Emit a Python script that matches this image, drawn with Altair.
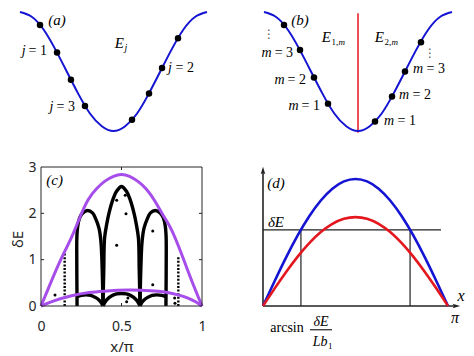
import altair as alt
import pandas as pd

BLUE = "#1414d2"
RED = "#e4161e"
PURPLE = "#a64dea"
INK = "#262626"
SERIF = "Liberation Serif"
SANS = "Noto Sans"

# ---------------- (a) / (b): cosine band, k in units of pi ----------------
band_k = [0, 0.125, 0.25, 0.375, 0.5, 0.625, 0.75, 0.875, 1.0,
          1.125, 1.25, 1.375, 1.5, 1.625, 1.75, 1.875, 2.0]
band_E = [1.0, 0.92, 0.71, 0.38, 0.0, -0.38, -0.71, -0.92, -1.0,
          -0.92, -0.71, -0.38, 0.0, 0.38, 0.71, 0.92, 1.0]

a_dot_k = [0.214, 0.396, 0.545, 0.695, 1.198, 1.380, 1.519, 1.690]
a_dot_E = [0.78, 0.32, -0.14, -0.58, -0.81, -0.37, 0.06, 0.56]

b_dot_k = [0.213, 0.383, 0.532, 0.681, 1.181, 1.362, 1.500, 1.670]
b_dot_E = [0.78, 0.36, -0.10, -0.54, -0.84, -0.42, 0.0, 0.49]

b_divider_k = [1.0]
b_divider_lo = [-1.03]
b_divider_hi = [0.98]

# level labels: (index text, k, E)
a_left_labels = [["= 1", 0.289, 0.344], ["= 3", 0.588, -0.59]]
a_right_labels = [["= 2", 1.583, 0.066]]
b_left_labels = [["= 3", 0.309, 0.317], ["= 2", 0.447, -0.138], ["= 1", 0.596, -0.577]]
b_right_labels = [["= 3", 1.585, 0.041], ["= 2", 1.436, -0.398], ["= 1", 1.277, -0.837]]

# ---------------- (c): delta E versus x/pi ----------------
c_upper_x = [0, 0.06, 0.12, 0.188, 0.24, 0.292, 0.345, 0.395, 0.45, 0.5,
             0.55, 0.602, 0.655, 0.71, 0.76, 0.81, 0.87, 0.93, 1.0]
c_upper_y = [0, 0.5, 0.98, 1.47, 1.9, 2.29, 2.53, 2.69, 2.8, 2.84,
             2.8, 2.69, 2.52, 2.25, 1.95, 1.65, 1.15, 0.6, 0]
c_lower_x = [0, 0.08, 0.19, 0.3, 0.395, 0.48, 0.56, 0.68, 0.768, 0.85, 0.913, 0.96, 1.0]
c_lower_y = [0, 0.11, 0.22, 0.29, 0.32, 0.34, 0.345, 0.33, 0.30, 0.24, 0.17, 0.09, 0]

arch_left_x = [0.224, 0.222, 0.223, 0.228, 0.24, 0.26, 0.29, 0.32, 0.34, 0.36, 0.372, 0.38, 0.385]
arch_left_y = [0, 1.2, 1.5, 1.72, 1.9, 2.01, 2.06, 2.01, 1.88, 1.68, 1.4, 0.8, 0]
arch_mid_x = [0.385, 0.39, 0.395, 0.41, 0.422, 0.447, 0.47, 0.5, 0.53, 0.553, 0.578, 0.59, 0.605, 0.61, 0.615]
arch_mid_y = [0, 0.8, 1.47, 1.8, 2.0, 2.3, 2.48, 2.58, 2.48, 2.3, 2.0, 1.8, 1.47, 0.8, 0]
arch_right_x = [0.615, 0.62, 0.628, 0.64, 0.66, 0.68, 0.71, 0.74, 0.76, 0.772, 0.777, 0.778, 0.776]
arch_right_y = [0, 0.8, 1.4, 1.68, 1.88, 2.01, 2.06, 2.01, 1.9, 1.72, 1.5, 1.2, 0]
low_left_x = [0.224, 0.25, 0.28, 0.31, 0.34, 0.36, 0.375, 0.385]
low_left_y = [0.2, 0.23, 0.24, 0.23, 0.18, 0.13, 0.07, 0]
low_mid_x = [0.385, 0.395, 0.41, 0.44, 0.47, 0.5, 0.53, 0.56, 0.59, 0.605, 0.615]
low_mid_y = [0, 0.07, 0.14, 0.22, 0.26, 0.27, 0.26, 0.22, 0.14, 0.07, 0]
low_right_x = [0.615, 0.625, 0.64, 0.66, 0.69, 0.72, 0.75, 0.776]
low_right_y = [0, 0.07, 0.13, 0.18, 0.23, 0.24, 0.23, 0.2]

c_col_x = [0.147, 0.853]
c_col_top = [1.15, 1.05]

c_dot_x = [0.087, 0.47, 0.523, 0.528, 0.47, 0.694, 0.694, 0.54, 0.532, 0.832, 0.83]
c_dot_y = [0.24, 2.28, 2.39, 1.99, 1.31, 1.62, 0.46, 0.17, 0.09, 0.06, 0.17]

c_xticks = [0, 0.5, 1]
c_yticks = [0, 1, 2, 3]

# ---------------- (d): sketch of two sine bands ----------------
d_x = [0, 0.0625, 0.125, 0.1875, 0.25, 0.3125, 0.375, 0.4375, 0.5,
       0.5625, 0.625, 0.6875, 0.75, 0.8125, 0.875, 0.9375, 1.0]
d_blue = [0, 0.195, 0.383, 0.556, 0.707, 0.831, 0.924, 0.981, 1.0,
          0.981, 0.924, 0.831, 0.707, 0.556, 0.383, 0.195, 0]
d_red = [0, 0.137, 0.268, 0.389, 0.495, 0.582, 0.647, 0.687, 0.70,
         0.687, 0.647, 0.582, 0.495, 0.389, 0.268, 0.137, 0]
d_level = 0.6
d_cross = [0.205, 0.795]

# ---------------- layout: one plot area, one pair of scales per panel ----------------
OX, OY = 8, 8          # page margin
PW, PH = 458, 346      # plot area


def xdom(v0, p0, v1, p1):
    s = (p1 - p0) / (v1 - v0)
    d0 = v0 - (p0 - OX) / s
    return [d0, d0 + PW / s]


def ydom(v0, p0, v1, p1):
    s = (p0 - p1) / (v1 - v0)
    top = v0 + (p0 - OY) / s
    return [top - PH / s, top]


def enc(dom_x, dom_y, ax_x=None, ax_y=None):
    X = alt.X("x:Q", scale=alt.Scale(domain=dom_x, nice=False, zero=False), axis=ax_x)
    Y = alt.Y("y:Q", scale=alt.Scale(domain=dom_y, nice=False, zero=False), axis=ax_y)
    return X, Y


def labels(rows, X, Y, **kw):
    df = pd.DataFrame(rows, columns=["t", "x", "y"])
    base = dict(font=SERIF, fontSize=14, fontStyle="italic", baseline="middle", color="black")
    base.update(kw)
    return alt.Chart(df).mark_text(**base).encode(x=X, y=Y, text="t:N")


def level_labels(rows, var, var_w, side, X, Y):
    """'var = n' with an italic variable and an upright '= n'."""
    anchors = [[var, r[1], r[2]] for r in rows]
    if side == "right":          # text ends at the anchor
        return [labels(rows, X, Y, fontStyle="normal", align="right"),
                labels(anchors, X, Y, align="right", dx=-21.5)]
    return [labels(anchors, X, Y, align="left"),
            labels(rows, X, Y, fontStyle="normal", align="left", dx=var_w + 3.5)]


def curve(xs, ys, X, Y, **kw):
    df = pd.DataFrame({"x": xs, "y": ys})
    return alt.Chart(df).mark_line(**kw).encode(x=X, y=Y)


def dots(xs, ys, X, Y, **kw):
    df = pd.DataFrame({"x": xs, "y": ys})
    return alt.Chart(df).mark_circle(opacity=1, **kw).encode(x=X, y=Y)


# ---------------- panel (a) ----------------
XA, YA = enc(xdom(0, 20, 2, 207), ydom(-1, 128, 1, 9))
pa = alt.layer(
    curve(band_k, band_E, XA, YA, color=BLUE, strokeWidth=2, interpolate="natural"),
    dots(a_dot_k, a_dot_E, XA, YA, size=42, color="black"),
    labels([["(a)", 0.396, 0.87]], XA, YA, fontSize=15, align="center"),
    *level_labels(a_left_labels, "j", 4.0, "right", XA, YA),
    *level_labels(a_right_labels, "j", 4.0, "left", XA, YA),
    labels([["E", 1.112, 0.475]], XA, YA, fontSize=15, align="right"),
    labels([["j", 1.118, 0.39]], XA, YA, fontSize=10, align="left"),
)

# ---------------- panel (b) ----------------
XB, YB = enc(xdom(0, 264, 2, 452), ydom(-1, 128, 1, 9))
div_df = pd.DataFrame({"x": b_divider_k, "y": b_divider_lo, "y2": b_divider_hi})
pb = alt.layer(
    alt.Chart(div_df).mark_rule(color=RED, strokeWidth=1.5).encode(x=XB, y=YB, y2="y2:Q"),
    curve(band_k, band_E, XB, YB, color=BLUE, strokeWidth=2, interpolate="natural"),
    dots(b_dot_k, b_dot_E, XB, YB, size=42, color="black"),
    labels([["(b)", 0.383, 0.87]], XB, YB, fontSize=15, align="center"),
    *level_labels(b_left_labels, "m", 10.0, "right", XB, YB),
    *level_labels(b_right_labels, "m", 10.0, "left", XB, YB),
    labels([["E", 0.713, 0.577], ["E", 1.277, 0.577]], XB, YB, fontSize=15, align="right"),
    labels([["1,", 0.718, 0.49], ["2,", 1.282, 0.49]], XB, YB, fontSize=9, fontStyle="normal",
           align="left"),
    labels([["m", 0.718, 0.49], ["m", 1.282, 0.49]], XB, YB, fontSize=9, align="left", dx=7),
    labels([["⋮", 0.053, 0.626], ["⋮", 1.766, 0.317]], XB, YB, font="DejaVu Sans",
           fontStyle="normal", fontSize=12, color="#555", align="center"),
)

# ---------------- panel (c) ----------------
C_LEFT, C_RIGHT, C_TOP, C_BOTTOM = 41, 202, 164, 303
ax_cx = alt.Axis(orient="bottom", offset=-(OY + PH - C_BOTTOM), values=c_xticks, format="~g",
                 title="x/π", titleX=(C_LEFT + C_RIGHT) / 2 - OX, titleY=343 - C_BOTTOM,
                 titleAlign="center", titleBaseline="middle", titleAngle=0,
                 ticks=False, domain=False, grid=False, labelFlush=False,
                 labelFont=SANS, labelFontSize=14, labelColor=INK, labelPadding=13,
                 titleFont=SANS, titleFontSize=15, titleColor=INK, titleFontWeight="normal")
ax_cy = alt.Axis(orient="left", offset=-(C_LEFT - OX), values=c_yticks,
                 title="δE", titleX=17 - C_LEFT, titleY=236 - OY,
                 titleAlign="center", titleBaseline="middle", titleAngle=270,
                 ticks=False, domain=False, grid=False, labelFlush=False,
                 labelFont=SANS, labelFontSize=14, labelColor=INK, labelPadding=5,
                 titleFont=SANS, titleFontSize=15, titleColor=INK, titleFontWeight="normal")
XC, YC = enc(xdom(0, C_LEFT, 1, C_RIGHT), ydom(0, C_BOTTOM, 3, C_TOP), ax_cx, ax_cy)

segs = [arch_left_x, arch_mid_x, arch_right_x, low_left_x, low_mid_x, low_right_x]
segy = [arch_left_y, arch_mid_y, arch_right_y, low_left_y, low_mid_y, low_right_y]
arc_rows = []
for s, (xs, ys) in enumerate(zip(segs, segy)):
    for i, (xv, yv) in enumerate(zip(xs, ys)):
        arc_rows.append({"seg": s, "i": i, "x": xv, "y": yv})
arc_df = pd.DataFrame(arc_rows)

col_df = pd.DataFrame({"x": c_col_x, "y": [0, 0], "y2": c_col_top})
frame_df = pd.DataFrame({"x": [0], "x2": [1], "y": [0], "y2": [3]})
tick_df = pd.DataFrame({          # short inward ticks on all four sides
    "x":  [0, 0, 0.981, 0.981, 0.5, 0.5],
    "x2": [0.019, 0.019, 1, 1, 0.5, 0.5],
    "y":  [1, 2, 1, 2, 0, 2.935],
    "y2": [1, 2, 1, 2, 0.065, 3],
})

pc = alt.layer(
    alt.Chart(col_df).mark_rule(color="black", strokeWidth=2.4, strokeDash=[2, 1.6]).encode(
        x=XC, y=YC, y2="y2:Q"),
    alt.Chart(arc_df).mark_line(color="black", strokeWidth=3.4, interpolate="catmull-rom").encode(
        x=XC, y=YC, detail="seg:N", order="i:Q"),
    dots(c_dot_x, c_dot_y, XC, YC, size=9, color="black"),
    curve(c_upper_x, c_upper_y, XC, YC, color=PURPLE, strokeWidth=3, interpolate="natural"),
    curve(c_lower_x, c_lower_y, XC, YC, color=PURPLE, strokeWidth=3, interpolate="natural"),
    alt.Chart(frame_df).mark_rect(fillOpacity=0, stroke=INK, strokeWidth=1).encode(
        x=XC, x2="x2:Q", y=YC, y2="y2:Q"),
    alt.Chart(tick_df).mark_rule(color=INK, strokeWidth=1).encode(
        x=XC, x2="x2:Q", y=YC, y2="y2:Q"),
    labels([["(c)", 0.085, 2.73]], XC, YC, fontSize=15, align="center"),
)

# ---------------- panel (d) ----------------
XD, YD = enc(xdom(0, 263, 1, 448), ydom(0, 303, 1, 176))
axes_d = pd.DataFrame({"x": [0, 0], "x2": [1.043, 0], "y": [0, 0], "y2": [0, 1.063]})
thin_d = pd.DataFrame({
    "x":  [0, d_cross[0], d_cross[1], 0.254],
    "x2": [0.962, d_cross[0], d_cross[1], 0.373],
    "y":  [d_level, 0, 0, -0.187],
    "y2": [d_level, d_level, d_level, -0.187],
})
arrow_up = pd.DataFrame({"x": [0], "y": [1.063]})
arrow_rt = pd.DataFrame({"x": [1.043], "y": [0]})

pdd = alt.layer(
    alt.Chart(axes_d).mark_rule(color="#222", strokeWidth=1.6).encode(
        x=XD, x2="x2:Q", y=YD, y2="y2:Q"),
    alt.Chart(thin_d).mark_rule(color="#222", strokeWidth=1.2).encode(
        x=XD, x2="x2:Q", y=YD, y2="y2:Q"),
    curve(d_x, d_blue, XD, YD, color=BLUE, strokeWidth=2.6, interpolate="natural"),
    curve(d_x, d_red, XD, YD, color=RED, strokeWidth=2.6, interpolate="natural"),
    alt.Chart(arrow_up).mark_point(shape="M0,-1L0.55,0.8L0,0.4L-0.55,0.8Z", size=70, filled=True,
                                   color="#222", opacity=1).encode(x=XD, y=YD),
    alt.Chart(arrow_rt).mark_point(shape="M1,0L-0.8,0.55L-0.4,0L-0.8,-0.55Z", size=70, filled=True,
                                   color="#222", opacity=1).encode(x=XD, y=YD),
    labels([["(d)", 0.07, 0.969]], XD, YD, fontSize=15, align="center"),
    labels([["δE", 0.07, 0.661]], XD, YD, fontSize=15, align="center"),
    labels([["x", 1.07, 0.079], ["π", 1.038, -0.094]], XD, YD, fontSize=16, align="center"),
    labels([["arcsin", 0.13, -0.173]], XD, YD, fontSize=14, fontStyle="normal", align="center"),
    labels([["δE", 0.314, -0.126]], XD, YD, fontSize=14, align="center"),
    labels([["Lb", 0.349, -0.283]], XD, YD, fontSize=14, align="right"),
    labels([["1", 0.352, -0.312]], XD, YD, fontSize=9, fontStyle="normal", align="left"),
)

chart = (
    alt.layer(pa, pb, pc, pdd)
    .resolve_scale(x="independent", y="independent")
    .resolve_axis(x="independent", y="independent")
    .properties(width=PW, height=PH, padding=0)
    .configure_view(stroke=None)
)

chart.save("out.html", embed_options={"renderer": "svg", "actions": False})
